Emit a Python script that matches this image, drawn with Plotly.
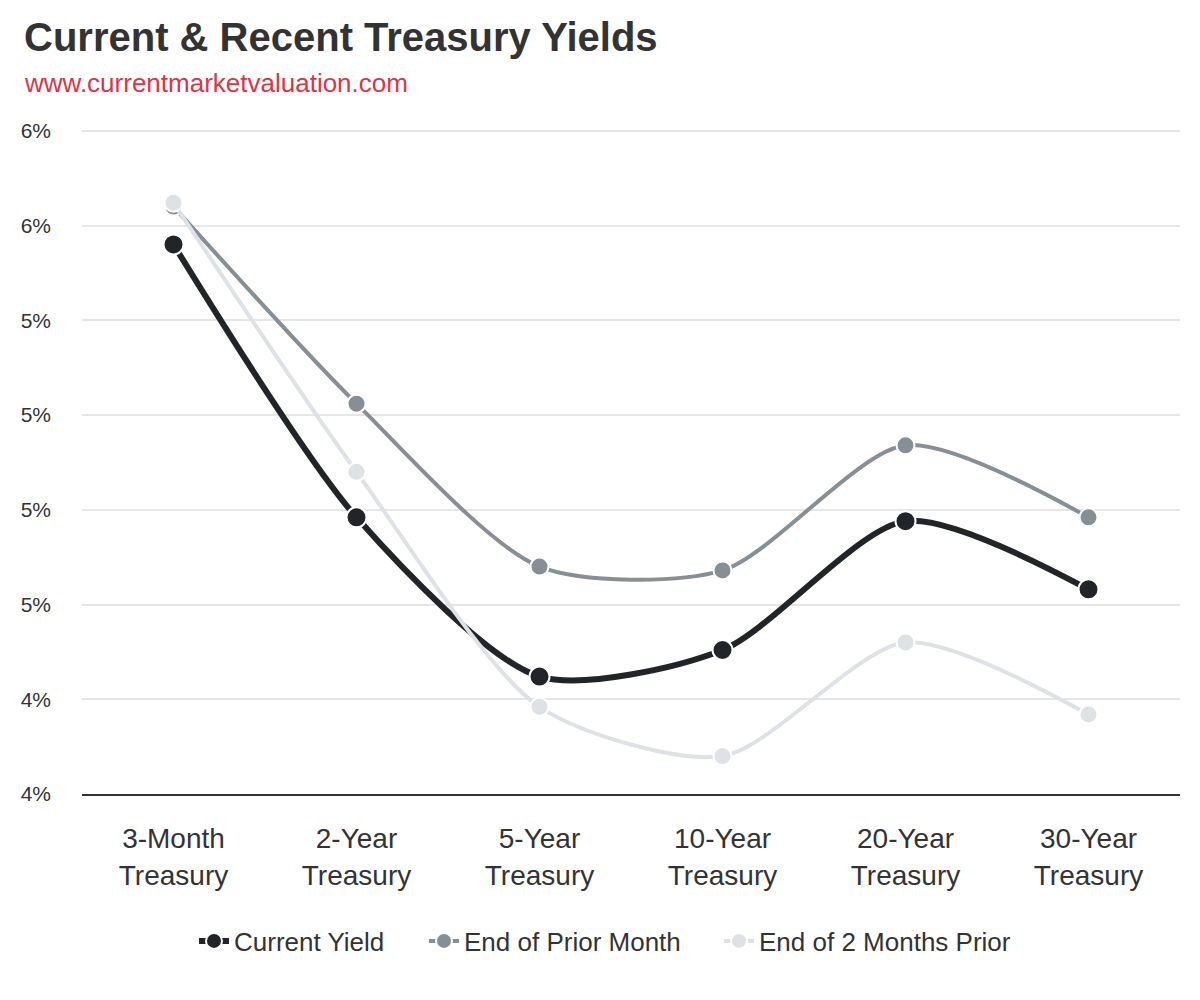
import plotly.graph_objects as go

categories = ["3-Month<br>Treasury", "2-Year<br>Treasury", "5-Year<br>Treasury",
              "10-Year<br>Treasury", "20-Year<br>Treasury", "30-Year<br>Treasury"]
current_yield = [5.45, 4.73, 4.31, 4.38, 4.72, 4.54]
prior_month = [5.55, 5.03, 4.60, 4.59, 4.92, 4.73]
two_months_prior = [5.56, 4.85, 4.23, 4.10, 4.40, 4.21]
y_ticks = [4.0, 4.25, 4.5, 4.75, 5.0, 5.25, 5.5, 5.75]
y_tick_labels = ["4%", "4%", "5%", "5%", "5%", "5%", "6%", "6%"]

series = [
    ("Current Yield", current_yield, "#212529", 6, 20, "legend"),
    ("End of Prior Month", prior_month, "#868e96", 4, 18, "legend2"),
    ("End of 2 Months Prior", two_months_prior, "#dee2e6", 4, 18, "legend3"),
]

fig = go.Figure()
for name, vals, color, lw, ms, lg in series:
    fig.add_trace(go.Scatter(
        x=categories, y=vals, name=name, mode="lines+markers",
        line=dict(color=color, width=lw, shape="spline", smoothing=0.75),
        marker=dict(color=color, size=ms, line=dict(color="white", width=2)),
        legend=lg,
    ))

ML, MR, MT, MB = 74, 28, 119, 214
W, H = 1200, 1000
plot_w = W - ML - MR
plot_h = H - MT - MB

def px_x(x):
    return (x - ML) / plot_w

def px_y(y):
    return 1 + (MT - y) / plot_h

def legend_at(xpx, ypx):
    return dict(orientation="h", xref="container", yref="container",
                x=xpx / W, y=1 - ypx / H, xanchor="left", yanchor="middle",
                font=dict(size=26, color="#333333"), itemwidth=30,
                bgcolor="rgba(0,0,0,0)")

fig.update_layout(
    width=W, height=H,
    paper_bgcolor="white", plot_bgcolor="white",
    margin=dict(l=ML, r=MR, t=MT, b=MB),
    font=dict(family="Liberation Sans, Arial, sans-serif", color="#333333"),
    showlegend=True,
    legend=legend_at(186, 933),
    legend2=legend_at(416, 933),
    legend3=legend_at(711, 933),
    annotations=[
        dict(text="<b>Current &amp; Recent Treasury Yields</b>",
             x=px_x(14), y=px_y(29), xref="paper", yref="paper",
             xanchor="left", yanchor="middle", showarrow=False,
             font=dict(size=40, color="#333333")),
        dict(text="www.currentmarketvaluation.com",
             x=px_x(14), y=px_y(75), xref="paper", yref="paper",
             xanchor="left", yanchor="middle", showarrow=False,
             font=dict(size=26, color="#dc3545")),
    ],
)

fig.update_xaxes(
    type="category", range=[-0.5, 5.5], showgrid=False,
    showline=True, linecolor="#333333", linewidth=1.5,
    ticks="", tickfont=dict(size=28, color="#333333"), ticklabelstandoff=19,
)
fig.update_yaxes(
    range=[4.0, 5.76], tickvals=y_ticks, ticktext=y_tick_labels,
    showgrid=True, gridcolor="#e6e6e6", gridwidth=1.5, zeroline=False,
    tickfont=dict(size=21, color="#333333"), ticklabelstandoff=30,
)

fig.write_html("out.html")
